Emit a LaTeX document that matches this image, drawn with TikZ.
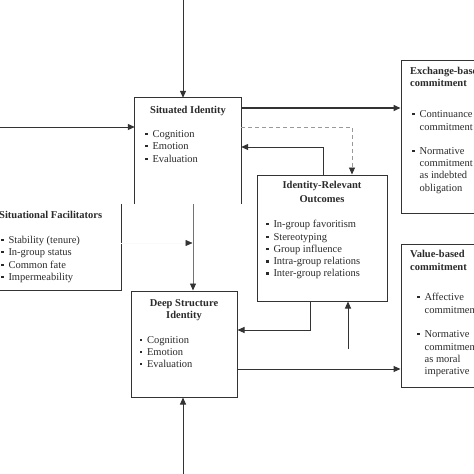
\documentclass[tikz,border=0pt]{standalone}
\usepackage{fontspec}
\setmainfont{Liberation Serif}
\usetikzlibrary{arrows.meta,calc}
\definecolor{ln}{HTML}{333333}
\definecolor{tx}{HTML}{2A2A2A}
\tikzset{
  box/.style={draw=ln,line width=1pt,rectangle,inner sep=0pt},
  ghost/.style={rectangle,inner sep=0pt},
  arr/.style={draw=ln,line width=1pt,-{Triangle[length=7pt,width=6pt]}},
  darr/.style={draw=black!40,line width=0.9pt,dashed,dash pattern=on 4pt off 3pt,-{Triangle[length=7pt,width=6pt,color=ln]}},
  txt/.style={anchor=base west,inner sep=0pt,text=tx,font=\fontsize{10.5}{12.5}\selectfont},
  ttl/.style={anchor=base,inner sep=0pt,text=tx,font=\fontsize{10.5}{12.5}\selectfont\bfseries},
  ttll/.style={anchor=base west,inner sep=0pt,text=tx,font=\fontsize{10.5}{12.5}\selectfont\bfseries},
}
\newcommand\myline[4]{\node[txt] (#1) at (#2,#3) {#4};}
\newcommand\mybul[4]{\node[txt] (#1) at (#2,#3) {\rule[2pt]{2.3pt}{2.3pt}\hspace{5pt}#4};}
\begin{document}
\begin{tikzpicture}[x=1pt,y=-1pt]
\useasboundingbox (0,0) rectangle (474,474);
\clip (0,0) rectangle (474,474);
\fill[white] (0,0) rectangle (474,474);
% boxes
\node[ghost,minimum width=106pt,minimum height=106pt] (si) at (188,151) {};
\draw[ln,line width=1pt] (si.south west) -- (si.north west) -- (si.north east) -- (si.south east);
\node[box,minimum width=90pt,minimum height=153pt] (ex) at (446,136.5) {};
\node[box,minimum width=130pt,minimum height=126pt] (iro) at (322,238) {};
\node[ghost,minimum width=141pt,minimum height=86pt] (sf) at (50.5,247) {};
\draw[ln,line width=1pt] (sf.north east) -- (sf.south east) -- (sf.south west);
\node[box,minimum width=106pt,minimum height=106pt] (ds) at (184,344) {};
\node[box,minimum width=90pt,minimum height=143pt] (vb) at (446,315.5) {};
% free ends
\coordinate (topin) at (183,0);
\coordinate (leftin) at (0,127);
\coordinate (botin) at (183,474);
\coordinate (upin) at (348,349);
% connectors
\draw[arr] (topin) -- (topin |- si.north);
\draw[arr] (leftin) -- (leftin -| si.west);
\draw[arr,line width=1.5pt] (si.east |- 0,108) -- (ex.west |- 0,108);
\draw[darr] (si.east |- 0,127) -| ($(iro.north)+(30,0)$);
\draw[arr] ($(iro.north)+(1,0)$) |- (si.east |- 0,147);
\draw[draw=black!55,line width=0.8pt,-{Triangle[length=7pt,width=6pt,color=ln]}] ($(si.south)+(5,0)$) -- ($(ds.north)+(9,0)$);
\draw[draw=black!2,line width=0.5pt,-{Triangle[length=7pt,width=6pt,color=ln]}] (sf.east |- 0,243) -- (192.5,243);
\draw[arr] ($(iro.south)+(-12,0)$) |- (ds.east |- 0,330);
\draw[arr] (upin) -- (upin |- iro.south);
\draw[arr] (ds.east |- 0,369) -- (vb.west |- 0,369);
\draw[arr] (botin) -- (botin |- ds.south);
% Situated Identity
\node[ttl] (si1) at (188,113) {Situated Identity};
\mybul{si2}{145}{137}{Cognition}
\mybul{si3}{145}{149}{Emotion}
\mybul{si4}{145}{162}{Evaluation}
% Exchange-based
\node[ttll] (ex1) at (410,74) {Exchange-based};
\node[ttll] (ex2) at (410,86.5) {commitment};
\mybul{ex3}{412}{117}{Continuance}
\myline{ex4}{419.5}{130}{commitment}
\mybul{ex5}{412}{154}{Normative}
\myline{ex6}{419.5}{166}{commitment}
\myline{ex7}{419.5}{178.5}{as indebted}
\myline{ex8}{419.5}{191}{obligation}
% Situational Facilitators
\node[ttll] (sf1) at (-1,218) {Situational Facilitators};
\mybul{sf2}{1}{243}{Stability (tenure)}
\mybul{sf3}{1}{255}{In-group status}
\mybul{sf4}{1}{268}{Common fate}
\mybul{sf5}{1}{280}{Impermeability}
% Identity-Relevant Outcomes
\node[ttl] (iro1) at (322,188) {Identity-Relevant};
\node[ttl] (iro2) at (322,202) {Outcomes};
\mybul{iro3}{266}{227}{In-group favoritism}
\mybul{iro4}{266}{240}{Stereotyping}
\mybul{iro5}{266}{252}{Group influence}
\mybul{iro6}{266}{264.5}{Intra-group relations}
\mybul{iro7}{266}{276.5}{Inter-group relations}
% Deep Structure Identity
\node[ttl] (ds1) at (184,306) {Deep Structure};
\node[ttl] (ds2) at (184,318) {Identity};
\mybul{ds3}{139.5}{343}{Cognition}
\mybul{ds4}{139.5}{355}{Emotion}
\mybul{ds5}{139.5}{367}{Evaluation}
% Value-based
\node[ttll] (vb1) at (410,257) {Value-based};
\node[ttll] (vb2) at (410,270) {commitment};
\mybul{vb3}{417}{300}{Affective}
\myline{vb4}{424.5}{313}{commitment}
\mybul{vb5}{417}{337}{Normative}
\myline{vb6}{424.5}{350}{commitment}
\myline{vb7}{424.5}{362}{as moral}
\myline{vb8}{424.5}{374}{imperative}
\end{tikzpicture}
\end{document}
